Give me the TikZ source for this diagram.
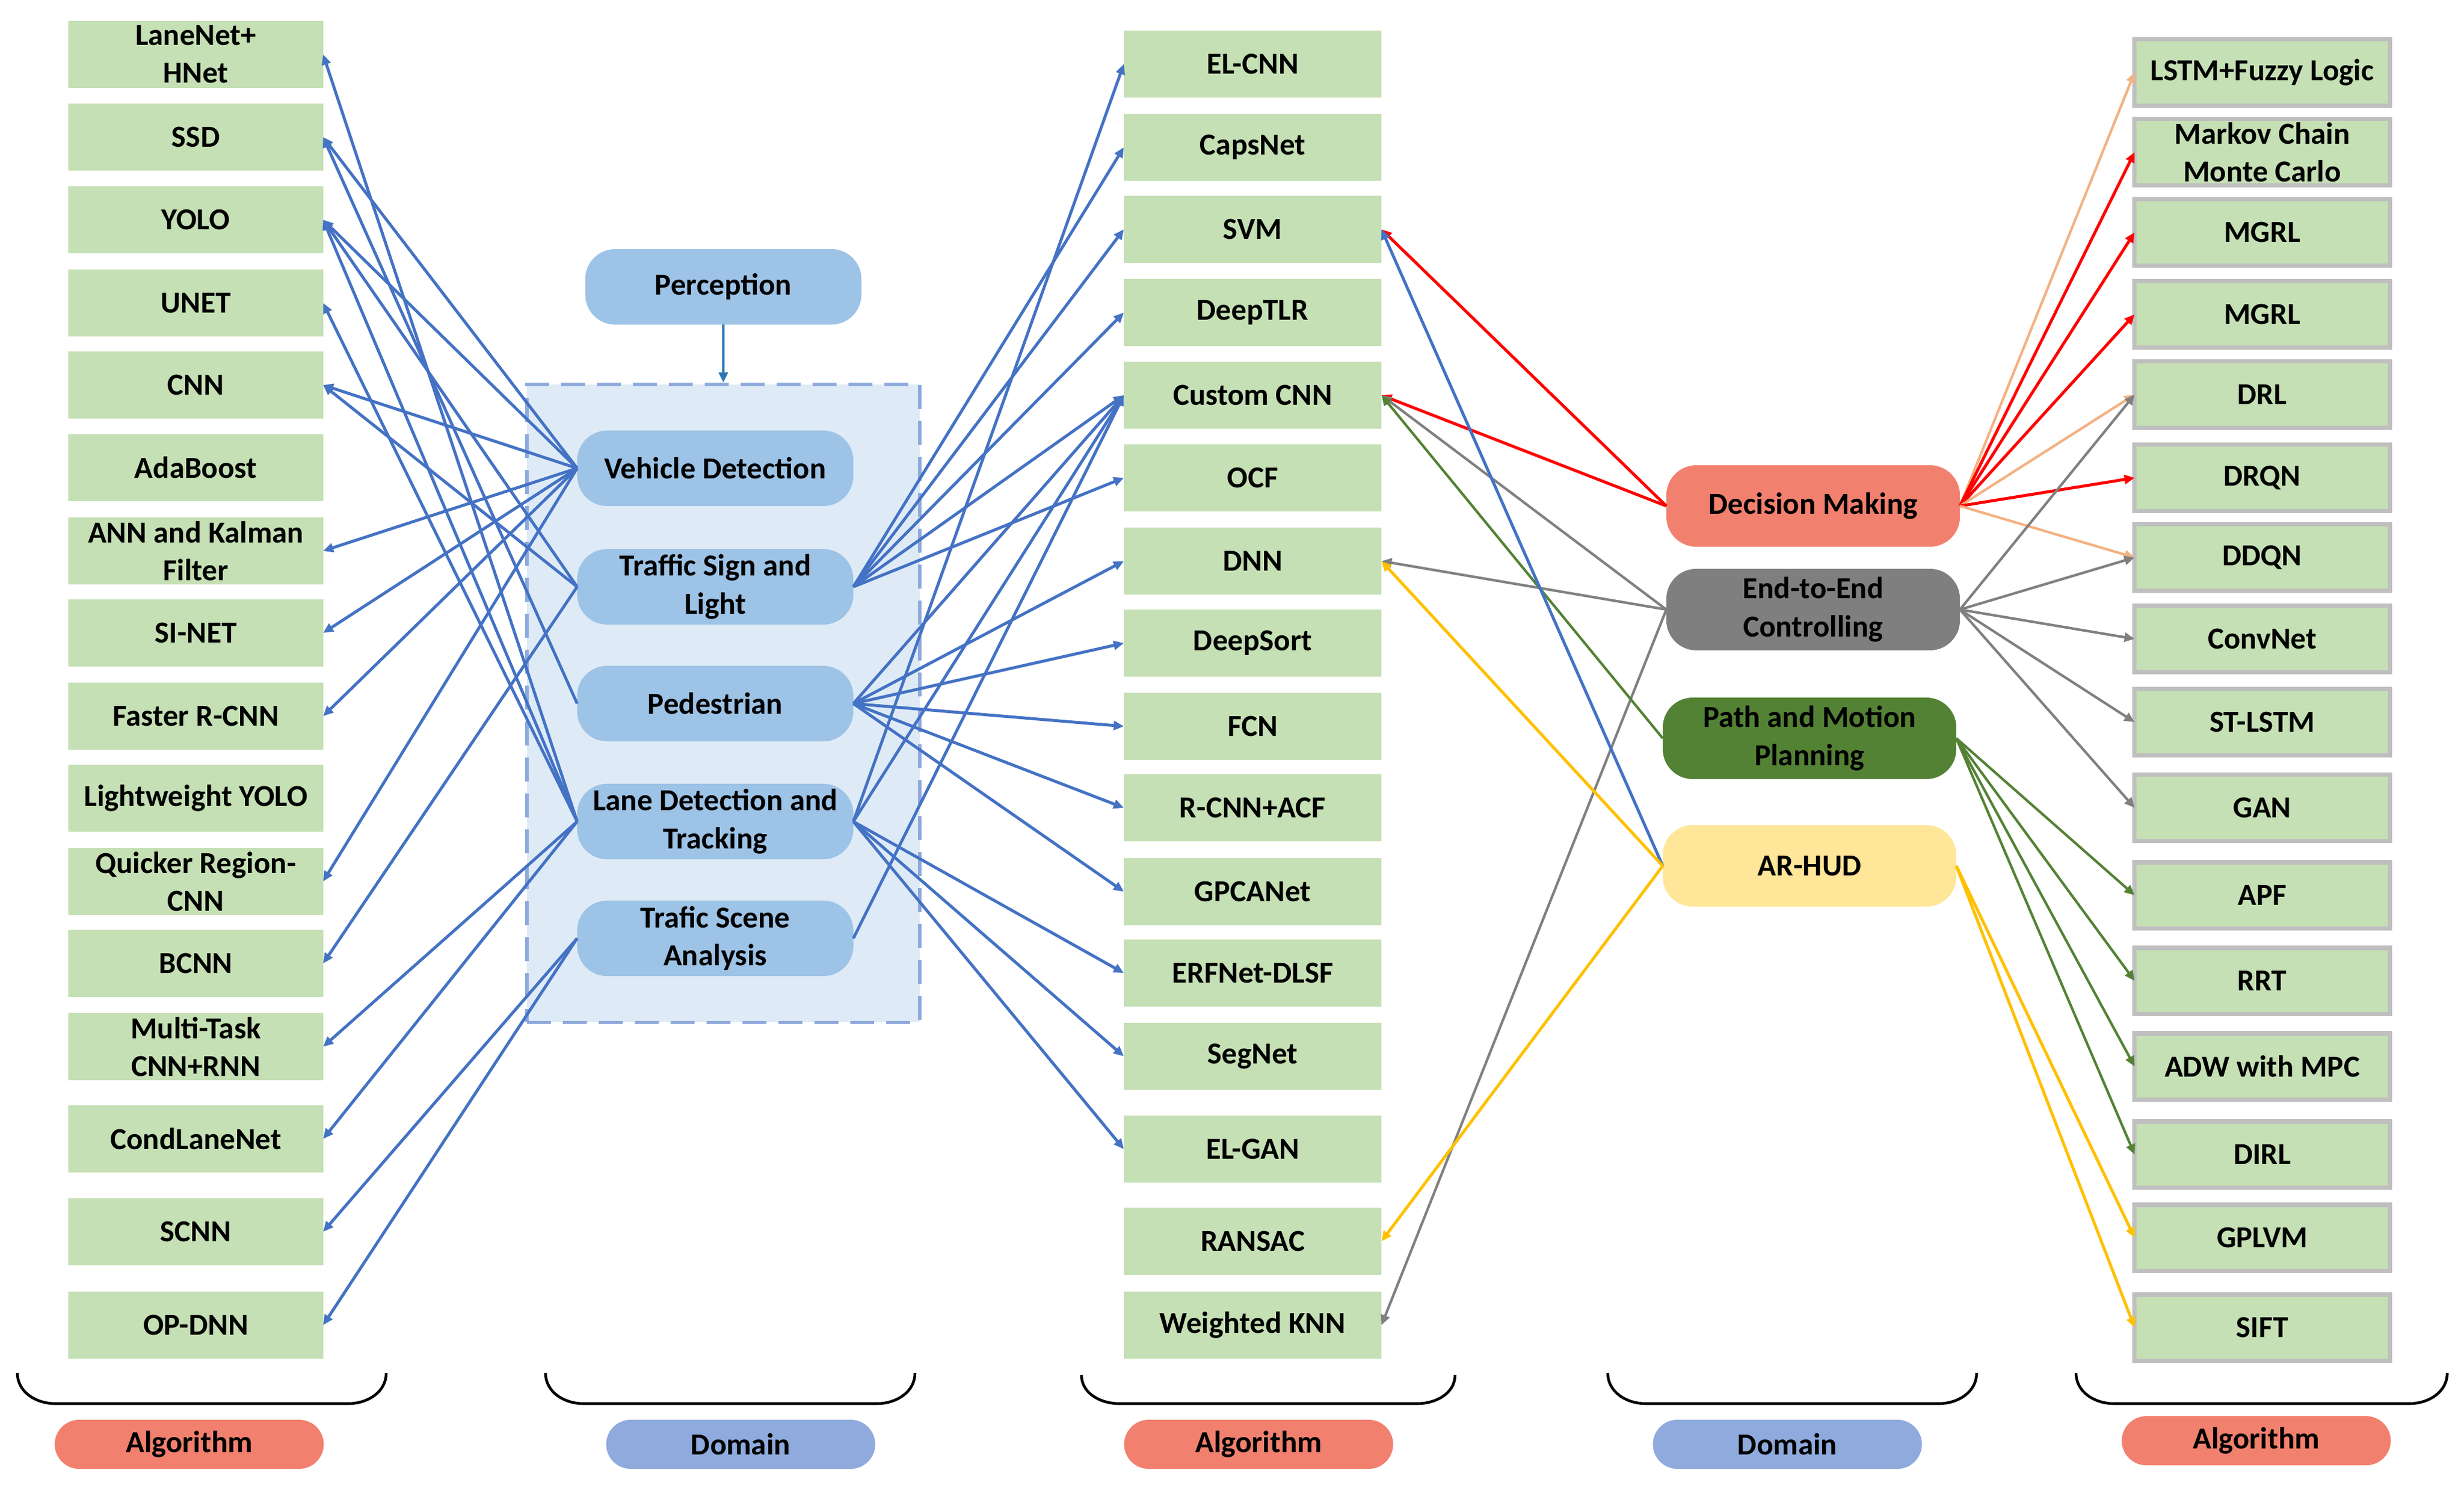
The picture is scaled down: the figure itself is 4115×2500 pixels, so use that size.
\documentclass[tikz,border=0pt]{standalone}
\usepackage{fontspec}
\setmainfont{Carlito}
\usepackage{tikz}
\usetikzlibrary{arrows.meta}

\definecolor{algogreen}{HTML}{C5E0B4}
\definecolor{framegray}{HTML}{BFBFBF}
\definecolor{domblue}{HTML}{9DC3E6}
\definecolor{groupfill}{HTML}{DEEBF7}
\definecolor{groupline}{HTML}{8FAADC}
\definecolor{percline}{HTML}{2E75B6}
\definecolor{linkblue}{HTML}{4472C4}
\definecolor{linkred}{HTML}{FF0000}
\definecolor{linkorange}{HTML}{F4B183}
\definecolor{linkgray}{HTML}{808080}
\definecolor{linkgreen}{HTML}{548235}
\definecolor{linkyellow}{HTML}{FFC000}
\definecolor{salmon}{HTML}{F2806E}
\definecolor{ctrlgray}{HTML}{7F7F7F}
\definecolor{hudyellow}{HTML}{FFE699}

\newcommand{\boxfont}{\fontsize{14.5}{18}\selectfont\bfseries}

\tikzstyle{algobox} = [rectangle, fill=algogreen, minimum width=4.25cm, minimum height=1.11cm, inner sep=0pt, outer sep=0pt, align=center, font=\boxfont]
\tikzstyle{midbox} = [algobox, minimum width=4.3cm]
\tikzstyle{ctrlbox} = [algobox, draw=framegray, line width=2pt, minimum width=4.26cm, minimum height=1.10cm]
\tikzstyle{domnode} = [rectangle, rounded corners=0.5cm, fill=domblue, minimum width=4.61cm, minimum height=1.26cm, inner sep=0pt, outer sep=0pt, align=center, font=\boxfont]
\tikzstyle{dom2node} = [domnode, minimum width=4.9cm, minimum height=1.36cm]
\tikzstyle{groupbox} = [rectangle, fill=groupfill, draw=groupline, line width=1.6pt, dash pattern=on 0.4cm off 0.2cm, minimum width=6.56cm, minimum height=10.65cm]
\tikzstyle{tagpill} = [rectangle, rounded corners=0.41cm, minimum width=4.49cm, minimum height=0.82cm, font=\boxfont]
\tikzstyle{bracket} = [draw=black, line width=1.3pt]
\tikzstyle{bluelink} = [->, draw=linkblue, line width=1.4pt]
\tikzstyle{redlink} = [->, draw=linkred, line width=1.4pt]
\tikzstyle{orangelink} = [->, draw=linkorange, line width=1.2pt]
\tikzstyle{graylink} = [->, draw=linkgray, line width=1.2pt]
\tikzstyle{greenlink} = [->, draw=linkgreen, line width=1.2pt]
\tikzstyle{yellowlink} = [->, draw=linkyellow, line width=1.4pt]

\begin{document}
\begin{tikzpicture}[x=0.01cm, y=-0.01cm, >={Triangle[length=0.17cm,width=0.15cm]}]
	\useasboundingbox (0,0) rectangle (4115,2500);

	% perception group
	\node (PERC_BOX) [groupbox] at (1208,1174.5) {};
	\node (PERCEPTION) [domnode] at (1208,479) {Perception};
	\node (VEH_DET) [domnode] at (1194.5,782) {Vehicle Detection};
	\node (TSL) [domnode] at (1194.5,980) {Traffic Sign and\\Light};
	\node (PED) [domnode] at (1194.5,1175) {Pedestrian};
	\node (LANE_DET) [domnode] at (1194.5,1372) {Lane Detection and\\Tracking};
	\node (SCENE) [domnode] at (1194.5,1567) {Trafic Scene\\Analysis};

	% left algorithms
	\node (LANENET) [algobox] at (327,91) {LaneNet+\\HNet};
	\node (SSD) [algobox] at (327,229) {SSD};
	\node (YOLO) [algobox] at (327,367) {YOLO};
	\node (UNET) [algobox] at (327,506) {UNET};
	\node (CNN) [algobox] at (327,643) {CNN};
	\node (ADABOOST) [algobox] at (327,781) {AdaBoost};
	\node (ANN_KALMAN) [algobox] at (327,920) {ANN and Kalman\\Filter};
	\node (SINET) [algobox] at (327,1057) {SI-NET};
	\node (FASTER_RCNN) [algobox] at (327,1196) {Faster R-CNN};
	\node (LW_YOLO) [algobox] at (327,1333) {Lightweight YOLO};
	\node (QUICKER_RCNN) [algobox] at (327,1472) {Quicker Region-\\CNN};
	\node (BCNN) [algobox] at (327,1609) {BCNN};
	\node (MT_CNNRNN) [algobox] at (327,1748) {Multi-Task\\CNN+RNN};
	\node (CONDLANENET) [algobox] at (327,1902) {CondLaneNet};
	\node (SCNN) [algobox] at (327,2057) {SCNN};
	\node (OPDNN) [algobox] at (327,2213) {OP-DNN};

	% middle algorithms
	\node (ELCNN) [midbox] at (2092,107) {EL-CNN};
	\node (CAPSNET) [midbox] at (2092,246) {CapsNet};
	\node (SVM) [midbox] at (2092,383) {SVM};
	\node (DEEPTLR) [midbox] at (2092,522) {DeepTLR};
	\node (CUSTOM_CNN) [midbox] at (2092,660) {Custom CNN};
	\node (OCF) [midbox] at (2092,798) {OCF};
	\node (DNN) [midbox] at (2092,937) {DNN};
	\node (DEEPSORT) [midbox] at (2092,1074) {DeepSort};
	\node (FCN) [midbox] at (2092,1213) {FCN};
	\node (RCNN_ACF) [midbox] at (2092,1349) {R-CNN+ACF};
	\node (GPCANET) [midbox] at (2092,1489) {GPCANet};
	\node (ERFNET) [midbox] at (2092,1625) {ERFNet-DLSF};
	\node (SEGNET) [midbox] at (2092,1764) {SegNet};
	\node (ELGAN) [midbox] at (2092,1919) {EL-GAN};
	\node (RANSAC) [midbox] at (2092,2073) {RANSAC};
	\node (WKNN) [midbox] at (2092,2213) {Weighted KNN};

	% control domains
	\node (DECISION) [dom2node, fill=salmon] at (3028,845) {Decision Making};
	\node (E2E) [dom2node, fill=ctrlgray] at (3028,1018) {End-to-End\\Controlling};
	\node (PATH_PLAN) [dom2node, fill=linkgreen] at (3022,1233) {Path and Motion\\Planning};
	\node (ARHUD) [dom2node, fill=hudyellow] at (3022,1446) {AR-HUD};

	% right algorithms
	\node (LSTM_FUZZY) [ctrlbox] at (3778,121) {LSTM+Fuzzy Logic};
	\node (MCMC) [ctrlbox] at (3778,254) {Markov Chain\\Monte Carlo};
	\node (MGRL_A) [ctrlbox] at (3778,388) {MGRL};
	\node (MGRL_B) [ctrlbox] at (3778,525) {MGRL};
	\node (DRL) [ctrlbox] at (3778,659) {DRL};
	\node (DRQN) [ctrlbox] at (3778,798) {DRQN};
	\node (DDQN) [ctrlbox] at (3778,931) {DDQN};
	\node (CONVNET) [ctrlbox] at (3778,1067) {ConvNet};
	\node (STLSTM) [ctrlbox] at (3778,1206) {ST-LSTM};
	\node (GAN) [ctrlbox] at (3778,1349) {GAN};
	\node (APF) [ctrlbox] at (3778,1495) {APF};
	\node (RRT) [ctrlbox] at (3778,1638) {RRT};
	\node (ADW_MPC) [ctrlbox] at (3778,1781) {ADW with MPC};
	\node (DIRL) [ctrlbox] at (3778,1928) {DIRL};
	\node (GPLVM) [ctrlbox] at (3778,2067) {GPLVM};
	\node (SIFT) [ctrlbox] at (3778,2217) {SIFT};

	% braces and tags
	\draw[bracket] (29,2293) to[out=-90,in=180] (92,2344) -- (582,2344) to[out=0,in=-90] (645,2293);
	\draw[bracket] (911,2293) to[out=-90,in=180] (974,2344) -- (1465,2344) to[out=0,in=-90] (1528,2293);
	\draw[bracket] (1806,2296) to[out=-90,in=180] (1869,2344) -- (2367,2344) to[out=0,in=-90] (2430,2296);
	\draw[bracket] (2685,2293) to[out=-90,in=180] (2748,2344) -- (3238,2344) to[out=0,in=-90] (3301,2293);
	\draw[bracket] (3467,2293) to[out=-90,in=180] (3530,2344) -- (4024,2344) to[out=0,in=-90] (4087,2293);
	\node (ALG_LEFT) [tagpill, fill=salmon] at (316,2412) {Algorithm};
	\node (DOM_LEFT) [tagpill, fill=groupline] at (1237,2412) {Domain};
	\node (ALG_MID) [tagpill, fill=salmon] at (2102,2412) {Algorithm};
	\node (DOM_RIGHT) [tagpill, fill=groupline] at (2985,2412) {Domain};
	\node (ALG_RIGHT) [tagpill, fill=salmon] at (3768,2406) {Algorithm};

	\draw[->, draw=percline, line width=1.4pt](PERCEPTION)--(PERC_BOX);

	% perception -> left algorithms
	\draw[bluelink](VEH_DET.west)--(SSD.east);
	\draw[bluelink](VEH_DET.west)--(YOLO.east);
	\draw[bluelink](VEH_DET.west)--(CNN.east);
	\draw[bluelink](VEH_DET.west)--(ANN_KALMAN.east);
	\draw[bluelink](VEH_DET.west)--(SINET.east);
	\draw[bluelink](VEH_DET.west)--(FASTER_RCNN.east);
	\draw[bluelink](VEH_DET.west)--(QUICKER_RCNN.east);
	\draw[bluelink](TSL.west)--(YOLO.east);
	\draw[bluelink](TSL.west)--(CNN.east);
	\draw[bluelink](TSL.west)--(BCNN.east);
	\draw[bluelink](PED.west)--(SSD.east);
	\draw[bluelink](LANE_DET.west)--(LANENET.east);
	\draw[bluelink](LANE_DET.west)--(YOLO.east);
	\draw[bluelink](LANE_DET.west)--(UNET.east);
	\draw[bluelink](LANE_DET.west)--(MT_CNNRNN.east);
	\draw[bluelink](LANE_DET.west)--(CONDLANENET.east);
	\draw[bluelink](SCENE.west)--(SCNN.east);
	\draw[bluelink](SCENE.west)--(OPDNN.east);

	% perception -> middle algorithms
	\draw[bluelink](TSL.east)--(CAPSNET.west);
	\draw[bluelink](TSL.east)--(SVM.west);
	\draw[bluelink](TSL.east)--(DEEPTLR.west);
	\draw[bluelink](TSL.east)--(CUSTOM_CNN.west);
	\draw[bluelink](TSL.east)--(OCF.west);
	\draw[bluelink](PED.east)--(CUSTOM_CNN.west);
	\draw[bluelink](PED.east)--(DNN.west);
	\draw[bluelink](PED.east)--(DEEPSORT.west);
	\draw[bluelink](PED.east)--(FCN.west);
	\draw[bluelink](PED.east)--(RCNN_ACF.west);
	\draw[bluelink](PED.east)--(GPCANET.west);
	\draw[bluelink](LANE_DET.east)--(ELCNN.west);
	\draw[bluelink](LANE_DET.east)--(CUSTOM_CNN.west);
	\draw[bluelink](LANE_DET.east)--(ERFNET.west);
	\draw[bluelink](LANE_DET.east)--(SEGNET.west);
	\draw[bluelink](LANE_DET.east)--(ELGAN.west);
	\draw[bluelink](SCENE.east)--(CUSTOM_CNN.west);

	% control domains -> middle algorithms
	\draw[redlink](DECISION.west)--(SVM.east);
	\draw[redlink](DECISION.west)--(CUSTOM_CNN.east);
	\draw[graylink](E2E.west)--(CUSTOM_CNN.east);
	\draw[graylink](E2E.west)--(DNN.east);
	\draw[graylink](E2E.west)--(WKNN.east);
	\draw[greenlink](PATH_PLAN.west)--(CUSTOM_CNN.east);
	\draw[bluelink](ARHUD.west)--(SVM.east);
	\draw[yellowlink](ARHUD.west)--(DNN.east);
	\draw[yellowlink](ARHUD.west)--(RANSAC.east);

	% control domains -> right algorithms
	\draw[orangelink](DECISION.east)--(LSTM_FUZZY.west);
	\draw[redlink](DECISION.east)--(MCMC.west);
	\draw[redlink](DECISION.east)--(MGRL_A.west);
	\draw[redlink](DECISION.east)--(MGRL_B.west);
	\draw[orangelink](DECISION.east)--(DRL.west);
	\draw[redlink](DECISION.east)--(DRQN.west);
	\draw[orangelink](DECISION.east)--(DDQN.west);
	\draw[graylink](E2E.east)--(DRL.west);
	\draw[graylink](E2E.east)--(DDQN.west);
	\draw[graylink](E2E.east)--(CONVNET.west);
	\draw[graylink](E2E.east)--(STLSTM.west);
	\draw[graylink](E2E.east)--(GAN.west);
	\draw[greenlink](PATH_PLAN.east)--(APF.west);
	\draw[greenlink](PATH_PLAN.east)--(RRT.west);
	\draw[greenlink](PATH_PLAN.east)--(ADW_MPC.west);
	\draw[greenlink](PATH_PLAN.east)--(DIRL.west);
	\draw[yellowlink](ARHUD.east)--(GPLVM.west);
	\draw[yellowlink](ARHUD.east)--(SIFT.west);
\end{tikzpicture}
\end{document}
